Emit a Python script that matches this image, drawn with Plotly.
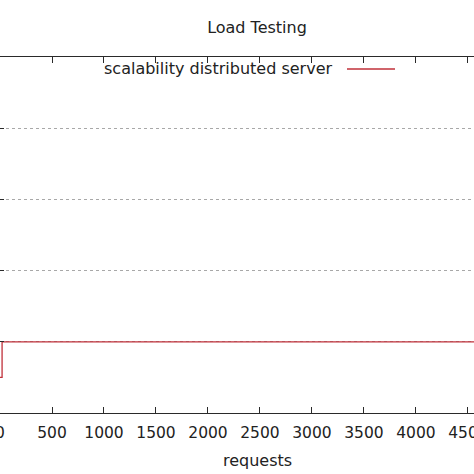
import plotly.graph_objects as go

# load test result (step plot, gnuplot style)
requests = [0, 20, 4700]
throughput = [5, 10, 10]

x_ticks = [0, 500, 1000, 1500, 2000, 2500, 3000, 3500, 4000, 4500]
y_ticks = [0, 10, 20, 30, 40, 50]

series_name = "scalability distributed server"
line_color = "#c0303a"
font_family = "DejaVu Sans"
text_color = "#222222"

fig = go.Figure()

fig.add_trace(
    go.Scatter(x=requests,
               y=throughput,
               mode="lines",
               line=dict(color=line_color, width=1.3, shape="hv"),
               name=series_name,
               showlegend=False)
)

fig.update_layout(
    width=474,
    height=474,
    margin=dict(l=0, r=0, t=57, b=61),
    paper_bgcolor="white",
    plot_bgcolor="white",
    font=dict(family=font_family, size=16, color=text_color),
    title=dict(text="Load Testing", x=257 / 474, xanchor="center",
               y=1 - 27 / 474, yanchor="middle",
               font=dict(family=font_family, size=16, color=text_color)),
    showlegend=False,
)

fig.update_xaxes(
    range=[0, 4558],
    tickvals=x_ticks,
    ticktext=[str(v) for v in x_ticks],
    tickfont=dict(size=15.5),
    ticklabeloverflow="allow",
    ticklabelstandoff=5,
    automargin=False,
    ticks="inside",
    ticklen=6,
    tickcolor="#2a2a2a",
    showline=True,
    linecolor="#2a2a2a",
    linewidth=1,
    mirror="ticks",
    showgrid=False,
    zeroline=False,
)

fig.update_yaxes(
    range=[0, 50],
    tickvals=y_ticks,
    automargin=False,
    ticks="inside",
    ticklen=4,
    tickcolor="#2a2a2a",
    showticklabels=False,
    showline=True,
    linecolor="#2a2a2a",
    linewidth=1,
    showgrid=True,
    gridcolor="#a8a8a8",
    griddash="dot",
    gridwidth=1,
    zeroline=False,
)

# gnuplot-like key: text on the left, sample line on the right
fig.add_annotation(text=series_name, xref="paper", yref="paper",
                   x=334 / 474, y=(413 - 69) / 356, xanchor="right", yanchor="middle",
                   showarrow=False, font=dict(family=font_family, size=16, color=text_color))
fig.add_shape(type="line", xref="paper", yref="paper",
              x0=347 / 474, x1=395 / 474, y0=(413 - 69) / 356, y1=(413 - 69) / 356,
              line=dict(color=line_color, width=1.3))

fig.add_annotation(text="requests", xref="paper", yref="paper",
                   x=257 / 474, y=(413 - 460) / 356, xanchor="center", yanchor="middle",
                   showarrow=False, font=dict(family=font_family, size=16, color=text_color))

# drop the default page margin so the plot starts at the window edge
fig.write_html("out.html", config={"displayModeBar": False},
               post_script="document.body.style.margin='0';")
